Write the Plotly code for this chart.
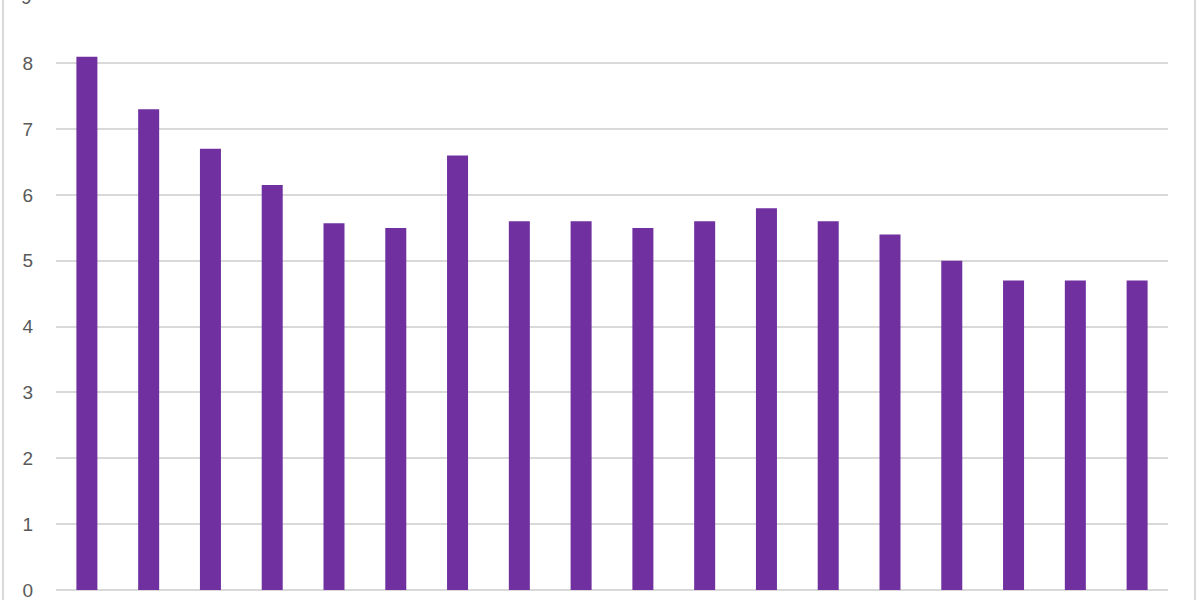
import plotly.graph_objects as go

categories = [str(i) for i in range(1, 19)]
values = [8.1, 7.3, 6.7, 6.15, 5.57, 5.5, 6.6, 5.6, 5.6, 5.5, 5.6, 5.8, 5.6, 5.4, 5.0, 4.7, 4.7, 4.7]
y_ticks = [0, 1, 2, 3, 4, 5, 6, 7, 8]

BAR = "#7030A0"
GRID = "#d9d9d9"
TEXT = "#595959"

fig = go.Figure()
fig.add_trace(go.Bar(x=categories, y=values, marker=dict(color=BAR, line=dict(width=0)), width=0.34))

L, R, T, B = 56, 32, 0, 10
W, H = 1200, 600
plot_w = W - L - R
plot_h = H - T - B
unit_px = 65.84
ytop = plot_h / unit_px

fig.update_layout(
    width=W, height=H,
    margin=dict(l=L, r=R, t=T, b=B),
    plot_bgcolor="white", paper_bgcolor="white",
    showlegend=False,
    font=dict(family="Liberation Sans, Arial, sans-serif", size=19, color=TEXT),
    xaxis=dict(showticklabels=False, showgrid=False, zeroline=False, showline=False,
               range=[-0.5, 17.5], ticks=""),
    yaxis=dict(range=[0, ytop], tickvals=y_ticks, showgrid=True, gridcolor=GRID, gridwidth=2,
               zeroline=True, zerolinecolor=GRID, zerolinewidth=2, showline=False, ticks="",
               ticklabelstandoff=22, ticklabeloverflow="allow",
               tickfont=dict(size=19, color=TEXT)),
    annotations=[dict(x=0, xref="paper", xanchor="right", xshift=-22, y=9 / ytop, yref="paper",
                      yanchor="middle", text="9", showarrow=False,
                      font=dict(size=19, color=TEXT))],
    shapes=[
        dict(type="line", xref="paper", yref="paper", x0=(3 - L) / plot_w, x1=(3 - L) / plot_w,
             y0=-B / plot_h, y1=1, line=dict(color=GRID, width=2)),
        dict(type="line", xref="paper", yref="paper", x0=(1195 - L) / plot_w, x1=(1195 - L) / plot_w,
             y0=-B / plot_h, y1=1, line=dict(color=GRID, width=2)),
    ],
)

fig.write_html("out.html", config={"displayModeBar": False},
               post_script="document.body.style.margin='0';document.body.style.overflow='hidden';")
